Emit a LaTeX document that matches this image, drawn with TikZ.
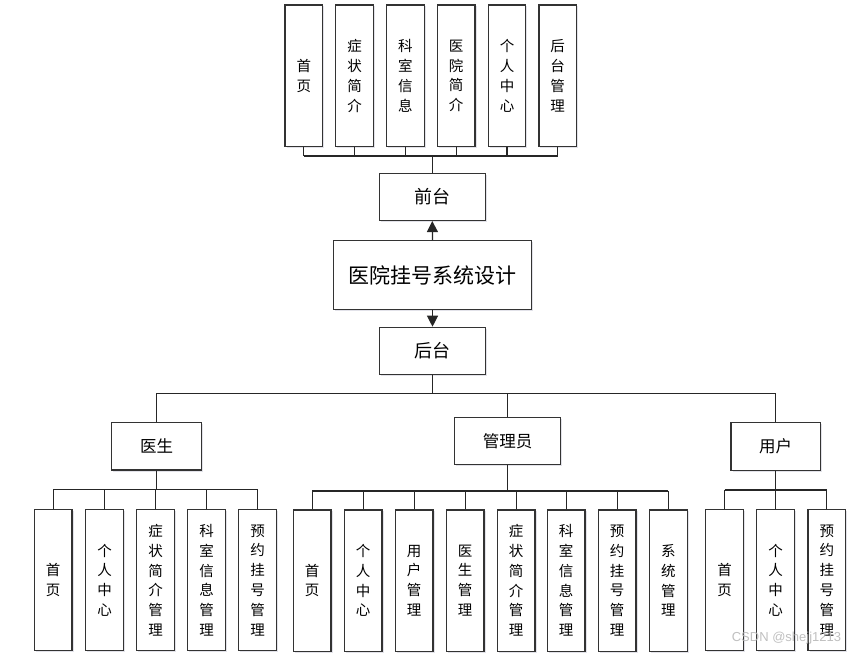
\documentclass[tikz,border=0pt]{standalone}
\usepackage{fontspec}
\newfontfamily\cjk{Noto Sans CJK SC}
\newfontfamily\wmfont{Liberation Sans}
\usetikzlibrary{arrows.meta,shadows}
\begin{document}
\begin{tikzpicture}[x=1pt,y=-1pt,
  box/.style={draw=black!80, line width=1.2pt, fill=white, inner sep=0pt, align=center,
    general shadow={fill=blue!15!gray!20, shadow xshift=1.5pt, shadow yshift=-1.5pt}},
  vbox/.style={box, minimum width=37.6pt, minimum height=141.2pt, font=\cjk\fontsize{14.5}{19.8}\selectfont},
  midbox/.style={box, minimum width=106pt, minimum height=47pt, font=\cjk\fontsize{18}{20}\selectfont},
  rolebox/.style={box, minimum width=90pt, minimum height=47.4pt, font=\cjk\fontsize{16.5}{20}\selectfont},
  conn/.style={draw=black!85, line width=1.2pt},
  arr/.style={conn, -{Triangle[length=11pt,width=11pt]}}]
\useasboundingbox (0,0) rectangle (863,656);

% top level
\node[box, minimum width=198.4pt, minimum height=68.6pt, font=\cjk\fontsize{21}{24}\selectfont] (main) at (432.5,275) {医院挂号系统设计};
\node[midbox] (qt) at (432.3,197) {前台};
\node[midbox] (ht) at (432.5,350.8) {后台};

% front children
\node[vbox, minimum height=141.7pt] (t1) at (303.8,75.8) {首\\页};
\node[vbox, minimum height=141.7pt] (t2) at (354.5,75.8) {症\\状\\简\\介};
\node[vbox, minimum height=141.7pt] (t3) at (405.3,75.8) {科\\室\\信\\息};
\node[vbox, minimum height=141.7pt] (t4) at (456.2,75.8) {医\\院\\简\\介};
\node[vbox, minimum height=141.7pt] (t5) at (507.0,75.8) {个\\人\\中\\心};
\node[vbox, minimum height=141.7pt] (t6) at (557.7,75.8) {后\\台\\管\\理};

% roles
\node[rolebox] (ys) at (156.7,446.3) {医生};
\node[rolebox, minimum width=106.4pt, minimum height=47pt] (gl) at (507.5,440.8) {管理员};
\node[rolebox, minimum width=89.3pt, minimum height=47.6pt] (yh) at (775.7,446.5) {用户};

% doctor children
\node[vbox] (d1) at (53.2,580.2) {首\\页};
\node[vbox] (d2) at (104.5,580.2) {个\\人\\中\\心};
\node[vbox] (d3) at (155.5,580.2) {症\\状\\简\\介\\管\\理};
\node[vbox] (d4) at (206.5,580.2) {科\\室\\信\\息\\管\\理};
\node[vbox] (d5) at (257.5,580.2) {预\\约\\挂\\号\\管\\理};

% admin children
\node[vbox] (a1) at (312.2,580.5) {首\\页};
\node[vbox] (a2) at (363.2,580.5) {个\\人\\中\\心};
\node[vbox] (a3) at (414.2,580.5) {用\\户\\管\\理};
\node[vbox] (a4) at (465.2,580.5) {医\\生\\管\\理};
\node[vbox] (a5) at (516.2,580.5) {症\\状\\简\\介\\管\\理};
\node[vbox] (a6) at (566.2,580.5) {科\\室\\信\\息\\管\\理};
\node[vbox] (a7) at (617.2,580.5) {预\\约\\挂\\号\\管\\理};
\node[vbox] (a8) at (668.3,580.5) {系\\统\\管\\理};

% user children
\node[vbox] (u1) at (724.5,580.2) {首\\页};
\node[vbox] (u2) at (775.5,580.2) {个\\人\\中\\心};
\node[vbox] (u3) at (826.8,580.2) {预\\约\\挂\\号\\管\\理};

% buses
\coordinate (tbus) at (0,156);
\coordinate (hbus) at (0,393.3);
\coordinate (dbus) at (0,489.5);
\coordinate (abus) at (0,491);
\coordinate (ubus) at (0,490);

% front connectors
\path[conn] (qt.north) -- (qt.north |- tbus);
\path[conn] (t1.south |- tbus) -- (t6.south |- tbus);
\foreach \n in {t1,t2,t3,t4,t5,t6} { \path[conn] (\n.south) -- (\n.south |- tbus); }

% arrows
\path[arr] (main.north) -- (qt.south);
\path[arr] (main.south) -- (ht.north);

% back connectors
\path[conn] (ht.south) -- (ht.south |- hbus);
\path[conn] (ys.north |- hbus) -- (yh.north |- hbus);
\path[conn] (ys.north) -- (ys.north |- hbus);
\path[conn] (gl.north) -- (gl.north |- hbus);
\path[conn] (yh.north) -- (yh.north |- hbus);

% doctor
\path[conn] (ys.south) -- (ys.south |- dbus);
\path[conn] (d1.north |- dbus) -- (d5.north |- dbus);
\foreach \n in {d1,d2,d3,d4,d5} { \path[conn] (\n.north) -- (\n.north |- dbus); }
% admin
\path[conn] (gl.south) -- (gl.south |- abus);
\path[conn] (a1.north |- abus) -- (a8.north |- abus);
\foreach \n in {a1,a2,a3,a4,a5,a6,a7,a8} { \path[conn] (\n.north) -- (\n.north |- abus); }
% user
\path[conn] (yh.south) -- (yh.south |- ubus);
\path[conn] (u1.north |- ubus) -- (u3.north |- ubus);
\foreach \n in {u1,u2,u3} { \path[conn] (\n.north) -- (\n.north |- ubus); }

% watermark
\node[font=\wmfont\fontsize{13}{15}\selectfont, text=gray!55, opacity=0.9, inner sep=0pt] (wm) at (786.5,638.5) {CSDN @shejj1213};
\end{tikzpicture}
\end{document}
